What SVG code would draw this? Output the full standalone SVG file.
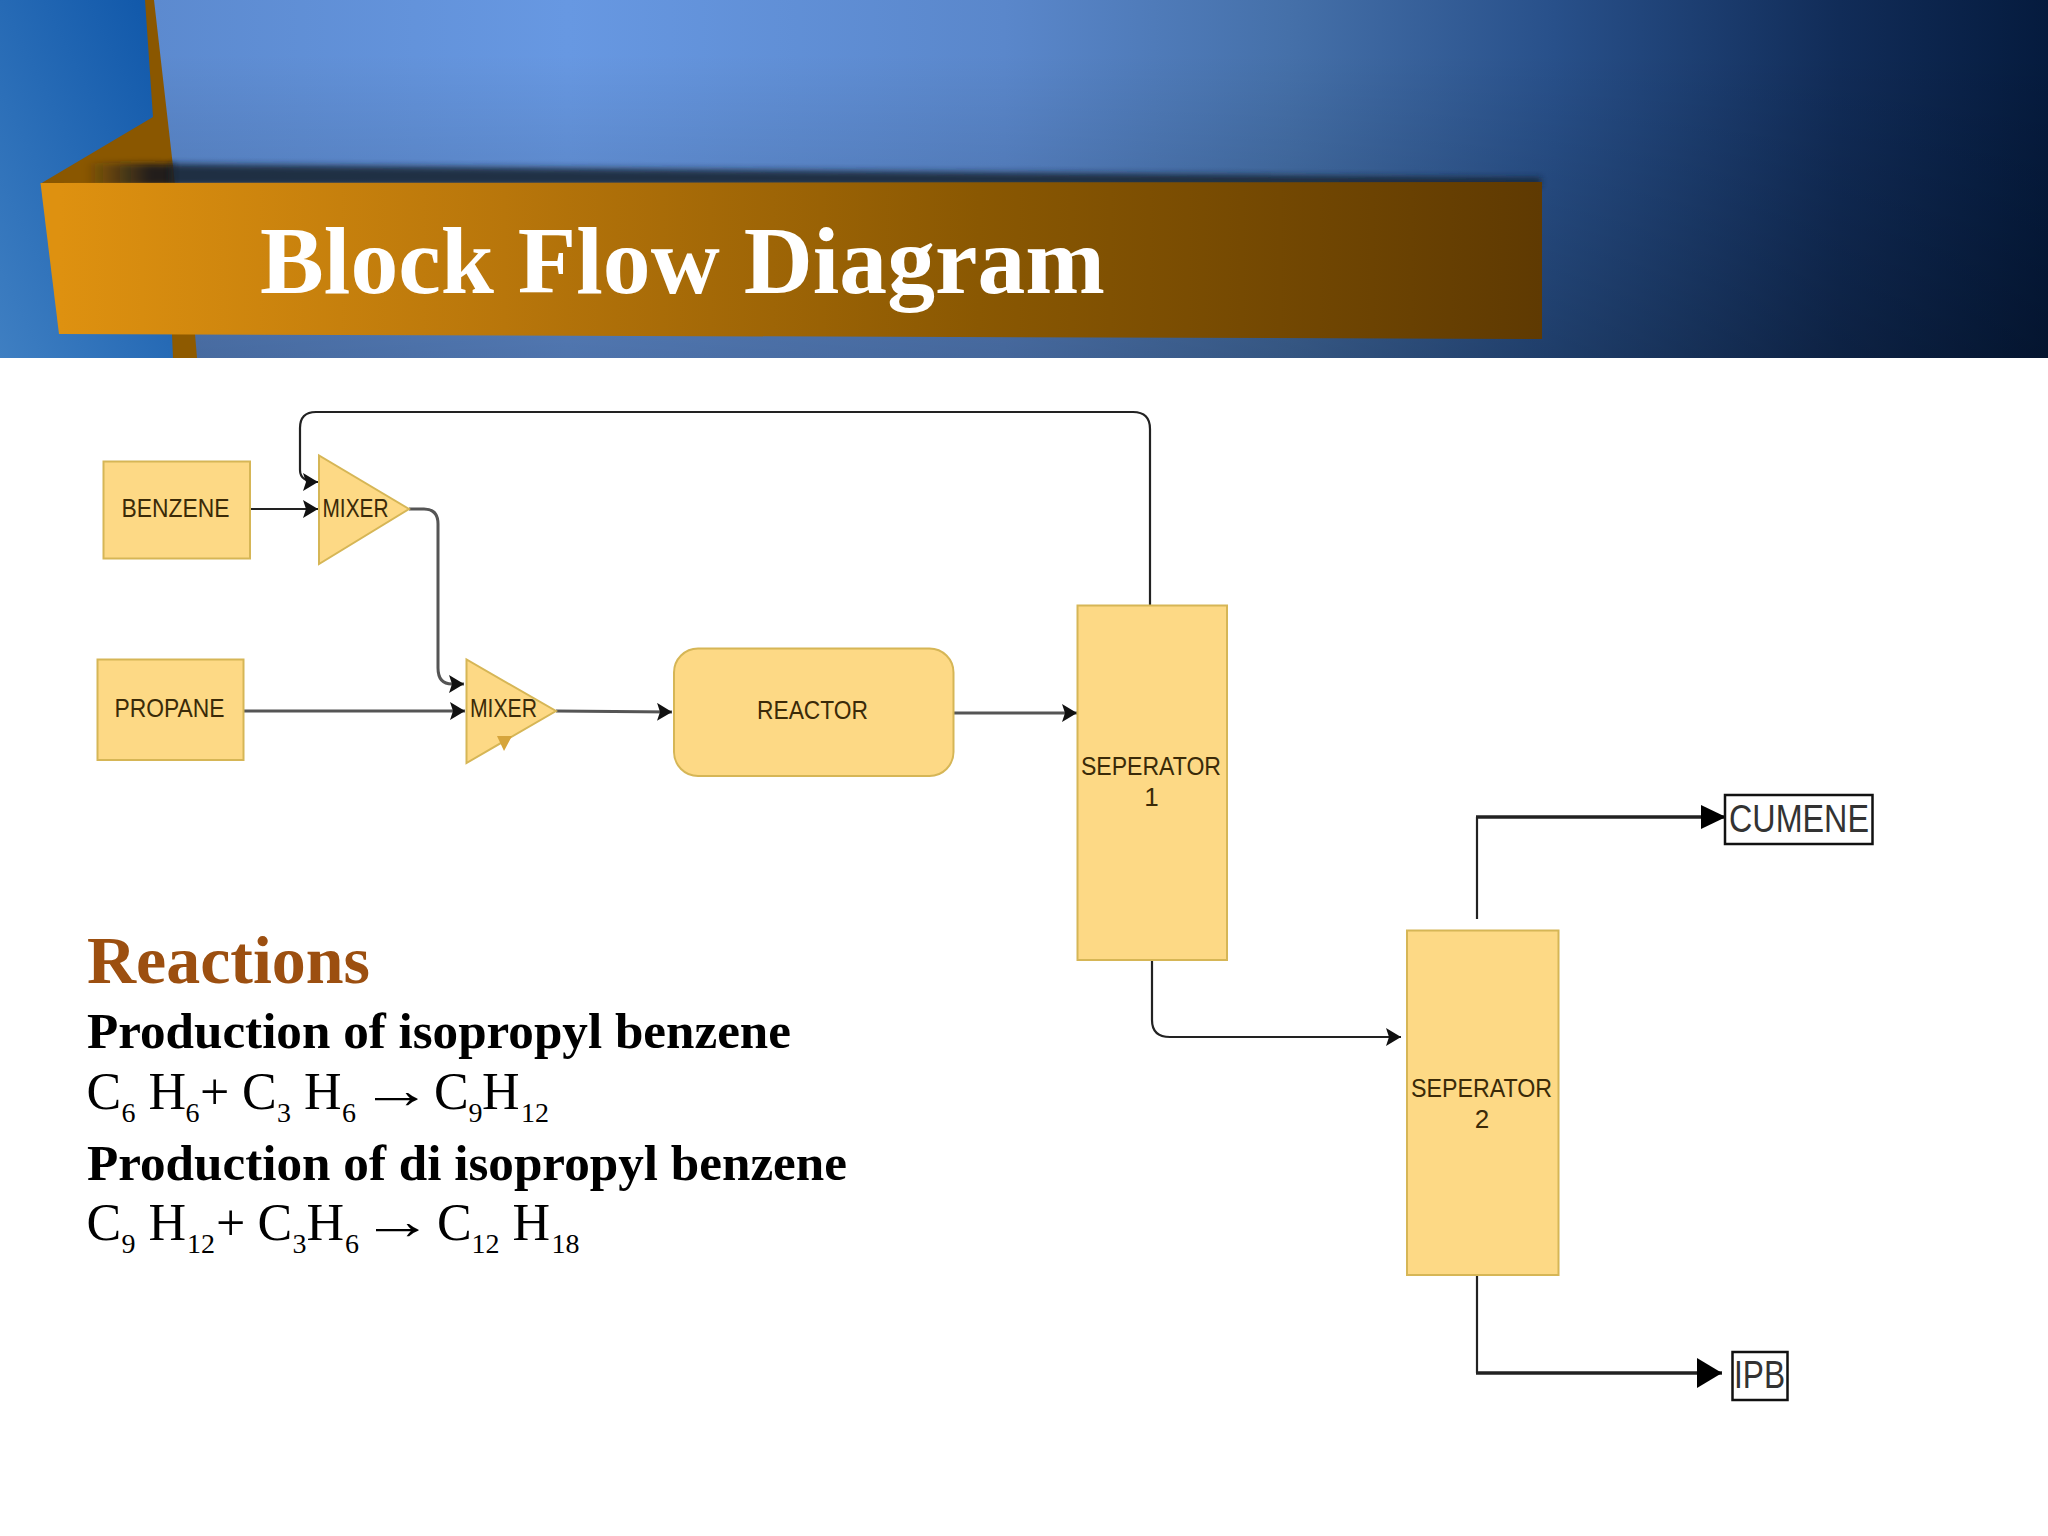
<svg xmlns="http://www.w3.org/2000/svg" width="2048" height="1536" viewBox="0 0 2048 1536">
<style>
.n{fill:#fdd985;stroke:#d6b656;stroke-width:2}
.l{font-family:"Liberation Sans",Arial,sans-serif;font-size:26px;fill:#3a2a08}
.o{font-family:"Liberation Sans",Arial,sans-serif;font-size:38px;fill:#333}
.b{fill:#fff;stroke:#111;stroke-width:2.5}
.c{fill:none;stroke:#222;stroke-width:2.2}
.h{fill:none;stroke:#222;stroke-width:3.4}
.g{fill:none;stroke:#555;stroke-width:3}
.s{font-family:"Liberation Serif","Times New Roman",serif;font-weight:bold;font-size:50px;fill:#000}
.e{font-family:"Liberation Serif","Times New Roman",serif;font-size:52px;fill:#000}
.u{font-size:28px}
</style>
<defs>
<linearGradient id="bg" gradientUnits="userSpaceOnUse" x1="150" y1="0" x2="2048" y2="0">
<stop offset="0" stop-color="#5c8acf"/><stop offset=".22" stop-color="#6798e2"/><stop offset=".45" stop-color="#5a87cb"/><stop offset=".6" stop-color="#4570a9"/><stop offset=".74" stop-color="#28508a"/><stop offset=".89" stop-color="#112c58"/><stop offset="1" stop-color="#051b3e"/>
</linearGradient>
<linearGradient id="dk" x1="0" y1="0" x2="0" y2="1">
<stop offset=".15" stop-color="#000" stop-opacity="0"/><stop offset="1" stop-color="#000" stop-opacity=".24"/>
</linearGradient>
<linearGradient id="lf" x1="1" y1="0" x2="0" y2="1">
<stop offset="0" stop-color="#0d55a8"/><stop offset="1" stop-color="#3f7fc2"/>
</linearGradient>
<linearGradient id="ban" gradientUnits="userSpaceOnUse" x1="60" y1="0" x2="1542" y2="0">
<stop offset="0" stop-color="#de9110"/><stop offset=".3" stop-color="#b8760b"/><stop offset=".62" stop-color="#8a5802"/><stop offset="1" stop-color="#5f3a02"/>
</linearGradient>
<linearGradient id="sh" gradientUnits="userSpaceOnUse" x1="85" y1="0" x2="150" y2="0">
<stop offset="0" stop-color="#14202f" stop-opacity="0"/><stop offset="1" stop-color="#1a1a20" stop-opacity=".9"/>
</linearGradient>
<filter id="bl" x="-5%" y="-50%" width="110%" height="200%"><feGaussianBlur stdDeviation="3"/></filter>
<marker id="aS" markerUnits="userSpaceOnUse" markerWidth="16" markerHeight="18" refX="15" refY="9" orient="auto"><path d="M0 0L15 9L0 18L3 9Z" fill="#111"/></marker>
<marker id="aC" markerUnits="userSpaceOnUse" markerWidth="26" markerHeight="26" refX="25" refY="13" orient="auto"><path d="M0 1L25 13L0 25Z" fill="#000"/></marker>
<marker id="aI" markerUnits="userSpaceOnUse" markerWidth="26" markerHeight="32" refX="25" refY="16" orient="auto"><path d="M0 1L25 16L0 31Z" fill="#000"/></marker>
</defs>
<rect width="2048" height="1536" fill="#fff"/>
<g id="header">
<rect width="2048" height="358" fill="url(#bg)"/>
<rect width="2048" height="358" fill="url(#dk)"/>
<polygon points="0,0 150,0 175,358 0,358" fill="url(#lf)"/>
<polygon points="145,0 154,0 175,184 40,184 153,117" fill="#8a5700"/>
<polygon points="172,334 195,334 197,358 173,358" fill="#8e5a00"/>
<polygon points="85,163 175,164 175,186 85,186" fill="url(#sh)" filter="url(#bl)"/>
<polygon points="170,164 1541,178 1541,186 170,186" fill="#14202f" opacity=".85" filter="url(#bl)"/>
<polygon points="40.500,183 1542,182 1542,339 59,334" fill="url(#ban)"/>
<text x="260" y="293" font-family="Liberation Serif,Times New Roman,serif" font-weight="bold" font-size="96" fill="#fff" textLength="845" lengthAdjust="spacingAndGlyphs">Block Flow Diagram</text>
</g>
<g id="connectors">
<path class="c" d="M1150 605V429Q1150 412 1133 412H316Q300 412 300 428V470Q300 482 318 482" marker-end="url(#aS)"/>
<path class="c" d="M250 509H318" marker-end="url(#aS)"/>
<path class="g" d="M409 509H424Q438 509 438 524V668Q438 684 452 684H464" marker-end="url(#aS)"/>
<path class="g" d="M244 711H465" marker-end="url(#aS)"/>
<path class="g" d="M556 711L672 712" marker-end="url(#aS)"/>
<path class="g" d="M954 713H1077" marker-end="url(#aS)"/>
<path class="c" d="M1152 960V1020Q1152 1037 1170 1037H1401" marker-end="url(#aS)"/>
<path class="c" d="M1477 919V817"/>
<path class="h" d="M1476 817H1726" marker-end="url(#aC)"/>
<path class="c" d="M1477 1275V1373"/>
<path class="h" d="M1476 1373H1722" marker-end="url(#aI)"/>
</g>
<g id="benzene"><rect class="n" x="103.500" y="461.500" width="146.500" height="97"/><text class="l" x="121.500" y="516.500" textLength="108" lengthAdjust="spacingAndGlyphs">BENZENE</text></g>
<g id="propane"><rect class="n" x="97.500" y="659.500" width="146" height="100.500"/><text class="l" x="114.500" y="716.500" textLength="110" lengthAdjust="spacingAndGlyphs">PROPANE</text></g>
<g id="mixer1"><polygon class="n" points="319,455.500 319,564 409,509"/><text class="l" x="322.500" y="516.500" textLength="66" lengthAdjust="spacingAndGlyphs">MIXER</text></g>
<g id="mixer2"><polygon class="n" points="466.500,659.500 466.500,763 556,711"/><polygon points="497,736 512,736 504,751" fill="#d6a53c"/><text class="l" x="470" y="717" textLength="67" lengthAdjust="spacingAndGlyphs">MIXER</text></g>
<g id="reactor"><rect class="n" x="674" y="648.500" width="279.500" height="127.500" rx="24"/><text class="l" x="757" y="719" textLength="111" lengthAdjust="spacingAndGlyphs">REACTOR</text></g>
<g id="separator1"><rect class="n" x="1077.500" y="605.500" width="149.500" height="354.500"/><text class="l" x="1081" y="775" textLength="140" lengthAdjust="spacingAndGlyphs">SEPERATOR</text><text class="l" x="1151.500" y="806" text-anchor="middle">1</text></g>
<g id="separator2"><rect class="n" x="1407" y="930.500" width="151.500" height="344.500"/><text class="l" x="1411" y="1097" textLength="141" lengthAdjust="spacingAndGlyphs">SEPERATOR</text><text class="l" x="1482" y="1128" text-anchor="middle">2</text></g>
<g id="cumene"><rect class="b" x="1725" y="795" width="147.500" height="49"/><text class="o" x="1729" y="831.500" textLength="140" lengthAdjust="spacingAndGlyphs">CUMENE</text></g>
<g id="ipb"><rect class="b" x="1732.500" y="1352" width="55" height="48"/><text class="o" x="1734" y="1388" textLength="51" lengthAdjust="spacingAndGlyphs">IPB</text></g>
<g id="reactions">
<text x="87" y="983" font-family="Liberation Serif,Times New Roman,serif" font-weight="bold" font-size="68" fill="#9c4f10" textLength="283" lengthAdjust="spacingAndGlyphs">Reactions</text>
<text class="s" x="87" y="1047.500" textLength="704" lengthAdjust="spacingAndGlyphs">Production of isopropyl benzene</text>
<text class="e" y="1109"><tspan x="86.500">C</tspan><tspan class="u" x="121.500" y="1122">6</tspan><tspan x="148.500" y="1109">H</tspan><tspan class="u" x="185.500" y="1122">6</tspan><tspan x="200" y="1109">+</tspan><tspan x="242">C</tspan><tspan class="u" x="277" y="1122">3</tspan><tspan x="304" y="1109">H</tspan><tspan class="u" x="342" y="1122">6</tspan><tspan x="360" y="1108" textLength="72" lengthAdjust="spacingAndGlyphs">→</tspan><tspan x="434" y="1109">C</tspan><tspan class="u" x="468.500" y="1122">9</tspan><tspan x="482" y="1109">H</tspan><tspan class="u" x="521" y="1122">12</tspan></text>
<text class="s" x="87" y="1179.500" textLength="760" lengthAdjust="spacingAndGlyphs">Production of di isopropyl benzene</text>
<text class="e" y="1240"><tspan x="86.500">C</tspan><tspan class="u" x="121.500" y="1253">9</tspan><tspan x="148.500" y="1240">H</tspan><tspan class="u" x="187" y="1253">12</tspan><tspan x="216" y="1240">+</tspan><tspan x="257.500">C</tspan><tspan class="u" x="292.500" y="1253">3</tspan><tspan x="306.500" y="1240">H</tspan><tspan class="u" x="345" y="1253">6</tspan><tspan x="361" y="1239" textLength="72" lengthAdjust="spacingAndGlyphs">→</tspan><tspan x="437" y="1240">C</tspan><tspan class="u" x="471.500" y="1253">12</tspan><tspan x="512.500" y="1240">H</tspan><tspan class="u" x="551.500" y="1253">18</tspan></text>
</g>
</svg>
